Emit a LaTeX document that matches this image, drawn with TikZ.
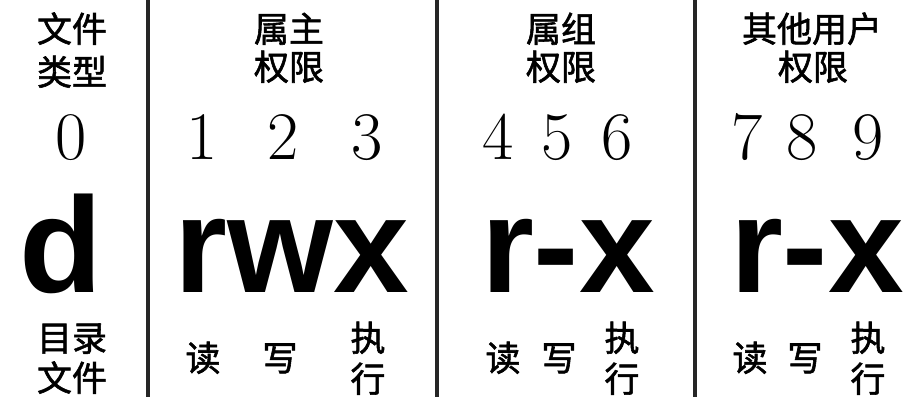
\documentclass[tikz,border=0pt]{standalone}
\usepackage{fontspec}
\newfontfamily\cjk{Noto Sans CJK SC}[FakeBold=1.6]
\newfontfamily\bigsans{Liberation Sans}
\begin{document}
\begin{tikzpicture}[x=1pt,y=-1pt,
  cjktxt/.style={inner sep=0pt,anchor=base,font=\cjk\fontsize{35}{40}\selectfont},
  digit/.style={inner sep=0pt,anchor=base,font=\fontsize{68}{72}\selectfont\addfontfeatures{FakeBold=0.9}},
  perm/.style={inner sep=0pt,anchor=base,font=\bigsans\bfseries\fontsize{136}{140}\selectfont},
  divider/.style={line width=3.2pt,black!85}]
\useasboundingbox (0,0) rectangle (905,407);
% dividers
\coordinate (t1) at (148,0); \coordinate (b1) at (148,397);
\coordinate (t2) at (437,0); \coordinate (b2) at (437,397);
\coordinate (t3) at (695,0); \coordinate (b3) at (695,397);
\draw[divider] (t1) -- (b1);
\draw[divider] (t2) -- (b2);
\draw[divider] (t3) -- (b3);
% headers
\node[cjktxt] (h0a) at (72,42) {文件};
\node[cjktxt] (h0b) at (72,85) {类型};
\node[cjktxt] (h1a) at (289,42) {属主};
\node[cjktxt] (h1b) at (289,80) {权限};
\node[cjktxt] (h2a) at (561,42) {属组};
\node[cjktxt] (h2b) at (561,80) {权限};
\node[cjktxt] (h3a) at (812,42) {其他用户};
\node[cjktxt] (h3b) at (813,80) {权限};
% digits
\node[digit] (n0) at (71,159) {0};
\node[digit] (n1) at (202,159) {1};
\node[digit] (n2) at (283,159) {2};
\node[digit] (n3) at (367,159) {3};
\node[digit] (n4) at (498,159) {4};
\node[digit] (n5) at (557,159) {5};
\node[digit] (n6) at (617,159) {6};
\node[digit] (n7) at (747,159) {7};
\node[digit] (n8) at (802,159) {8};
\node[digit] (n9) at (868,159) {9};
% permission letters
\node[perm] (p0) at (61,292) {d};
\node[perm] (p1) at (292,292) {rwx};
\node[perm] (p2) at (568,292) {r-x};
\node[perm] (p3) at (817,292) {r-x};
% bottom labels
\node[cjktxt] (l0a) at (72,351) {目录};
\node[cjktxt] (l0b) at (72,391) {文件};
\node[cjktxt] (r1) at (203,371) {读};
\node[cjktxt] (w1) at (280,371) {写};
\node[cjktxt] (x1a) at (368,351) {执};
\node[cjktxt] (x1b) at (368,392) {行};
\node[cjktxt] (r2) at (503,371) {读};
\node[cjktxt] (w2) at (559,371) {写};
\node[cjktxt] (x2a) at (622,351) {执};
\node[cjktxt] (x2b) at (622,392) {行};
\node[cjktxt] (r3) at (750,371) {读};
\node[cjktxt] (w3) at (805,371) {写};
\node[cjktxt] (x3a) at (868,351) {执};
\node[cjktxt] (x3b) at (868,392) {行};
\end{tikzpicture}
\end{document}
